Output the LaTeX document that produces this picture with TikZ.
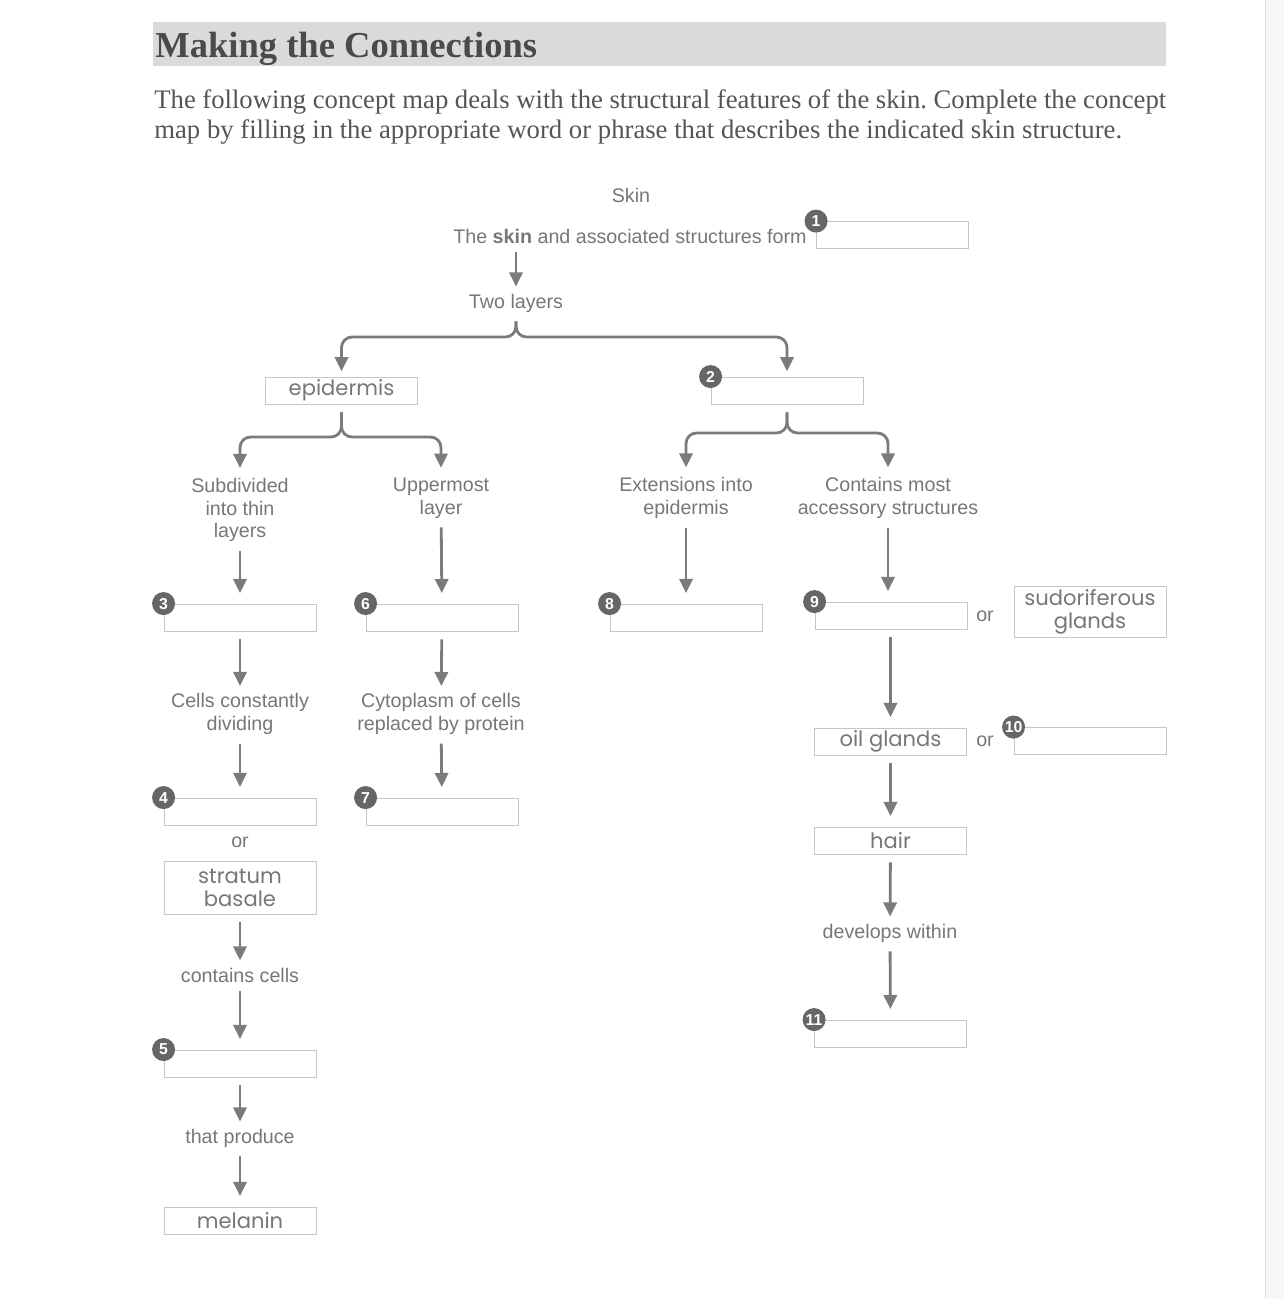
\documentclass[tikz,border=0pt]{standalone}
\usepackage{fontspec}
\setmainfont{Liberation Serif}
\setsansfont{Liberation Sans}
\newfontfamily\handfont{Poppins}
\usetikzlibrary{arrows.meta}
\usetikzlibrary{positioning}
\frenchspacing

\definecolor{inkgray}{HTML}{777777}
\definecolor{boxgray}{HTML}{C6C6C6}
\definecolor{arrowgray}{HTML}{7B7B7B}
\definecolor{badgegray}{HTML}{666666}
\definecolor{titlegray}{HTML}{4A4A4A}
\definecolor{bodygray}{HTML}{555555}
\definecolor{bargray}{HTML}{DADADA}

\tikzset{
  mapnote/.style={font=\sffamily\fontsize{11.2}{13}\selectfont, text=inkgray, align=center, inner sep=1pt},
  blank/.style={draw=boxgray, line width=0.5pt, minimum width=3.04cm, minimum height=0.54cm, inner sep=0pt},
  answer/.style={blank, font=\handfont\fontsize{12}{13}\selectfont, text=inkgray, align=center},
  badge/.style={circle, fill=badgegray, text=white, font=\sffamily\bfseries\fontsize{9}{9}\selectfont, minimum size=0.46cm, inner sep=0pt},
  link/.style={draw=arrowgray, line width=1.6pt, -{Triangle[length=8pt,width=7.5pt]}, shorten <=4pt, shorten >=3pt},
  tobox/.style={shorten >=6pt},
  frombox/.style={shorten <=4.5pt},
  fork/.style={link, rounded corners=6pt},
}

\begin{document}
\begin{tikzpicture}[x=0.02cm, y=-0.02cm]
  \useasboundingbox (0,0) rectangle (1284,1299);
  \fill[white] (0,0) rectangle (1284,1299);
  \fill[gray!6] (1265,0) rectangle (1284,1299);
  \draw[gray!25] (1265,0) -- (1265,1299);

  % heading and instructions
  \fill[bargray] (153,22) rectangle (1166,66);
  \node[anchor=base west, inner sep=0pt, font=\bfseries\fontsize{20.8}{24}\selectfont, text=titlegray] (title) at (155,57) {Making the Connections};
  \node[anchor=base west, inner sep=0pt, font=\fontsize{15.2}{18}\selectfont, text=bodygray] (intro1) at (154,108)
    {\hbox to 20.24cm{The following concept map deals with the structural features of the skin. Complete the concept}};
  \node[anchor=base west, inner sep=0pt, font=\fontsize{15.2}{18}\selectfont, text=bodygray] (intro2) at (154,138)
    {map by filling in the appropriate word or phrase that describes the indicated skin structure.};

  % texts of the map
  \node[mapnote] (skin) at (631,195) {Skin};
  \node[mapnote] (forms) at (630,236) {The \textbf{skin} and associated structures form};
  \node[mapnote] (two) at (516,303) {Two layers};
  \node[mapnote] (subdiv) at (240,510) {Subdivided\\into thin\\layers};
  \node[mapnote] (upper) at (441,498) {Uppermost\\layer};
  \node[mapnote] (ext) at (686,498) {Extensions into\\epidermis};
  \node[mapnote] (contains) at (888,498) {Contains most\\accessory structures};
  \node[mapnote] (cells) at (240,714) {Cells constantly\\dividing};
  \node[mapnote] (cyto) at (441,714) {Cytoplasm of cells\\replaced by protein};
  \node[mapnote] (or4) at (240,842) {or};
  \node[mapnote] (hascells) at (240,975) {contains cells};
  \node[mapnote] (produce) at (240,1138) {that produce};
  \node[mapnote] (or9) at (985,616) {or};
  \node[mapnote] (or10) at (985,741) {or};
  \node[mapnote] (develops) at (890,933) {develops within};

  % boxes to fill in
  \foreach \num/\x/\y in {1/892.5/235, 2/787/390.5, 3/240/617.5, 4/240/811.5, 5/240/1063.5,
      6/442/617.5, 7/442/811.5, 8/686/617.5, 9/891/615.5, 10/1090/741, 11/890.5/1033.5} {
    \node[blank] (b\num) at (\x,\y) {};
    \node[badge] (n\num) at (b\num.north west) {\num};
  }

  % given answers
  \node[answer] (epi) at (341.5,390.5) {\raisebox{-1.5pt}{epidermis}};
  \node[answer, minimum height=1.02cm] (sudo) at (1090,611.5) {sudoriferous\\glands};
  \node[answer] (oil) at (890.5,741.5) {\raisebox{-1.5pt}{oil glands}};
  \node[answer] (hair) at (890.5,840.5) {hair};
  \node[answer, minimum height=1.06cm] (stratum) at (240,887.5) {stratum\\basale};
  \node[answer] (melanin) at (240,1220.5) {melanin};

  % connectors
  \coordinate (bar1) at (0,337);
  \coordinate (bar2) at (0,437);
  \coordinate (bar3) at (0,433);

  \draw[link] (forms.south -| two.north) -- (two.north);
  \draw[fork] (two.south) -- (two.south |- bar1) -| (epi.north);
  \draw[fork] (two.south) -- (two.south |- bar1) -| (b2.north);
  \draw[fork, frombox, shorten >=4.5pt] (epi.south) -- (epi.south |- bar2) -| (subdiv.north);
  \draw[fork, frombox, shorten >=4.5pt] (epi.south) -- (epi.south |- bar2) -| (upper.north);
  \draw[fork, frombox, shorten >=4.5pt] (b2.south) -- (b2.south |- bar3) -| (ext.north);
  \draw[fork, frombox, shorten >=4.5pt] (b2.south) -- (b2.south |- bar3) -| (contains.north);

  \draw[link, tobox] (subdiv) -- (b3);
  \draw[link, frombox] (b3) -- (cells);
  \draw[link, tobox] (cells) -- (b4);
  \draw[link, frombox] (stratum) -- (hascells);
  \draw[link, tobox] (hascells) -- (b5);
  \draw[link, frombox] (b5) -- (produce);
  \draw[link, tobox] (produce) -- (melanin);

  \draw[link, tobox] (upper) -- (b6);
  \draw[link, frombox] (b6) -- (cyto);
  \draw[link, tobox] (cyto) -- (b7);

  \draw[link, tobox] (ext) -- (b8);

  \draw[link, tobox] (contains) -- (contains |- b9.north);
  \draw[link, frombox, tobox] (b9.south -| oil.north) -- (oil);
  \draw[link, frombox, tobox] (oil) -- (hair);
  \draw[link, frombox] (hair) -- (develops);
  \draw[link, tobox] (develops) -- (b11);
\end{tikzpicture}
\end{document}
